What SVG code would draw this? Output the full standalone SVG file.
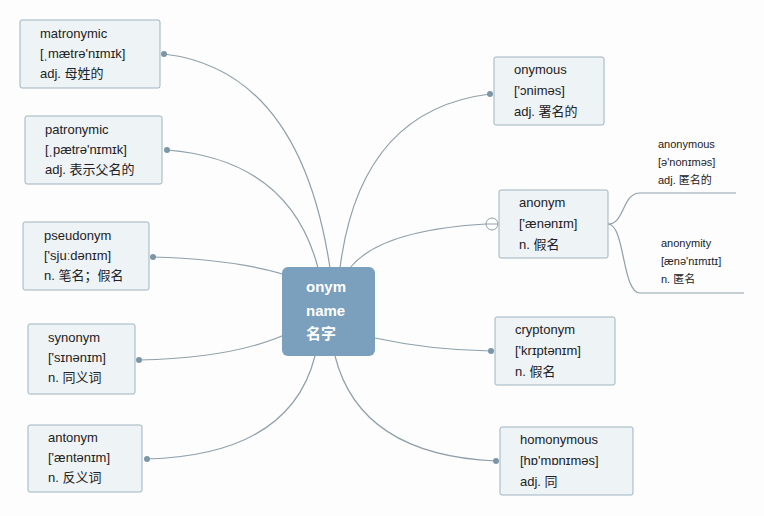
<svg xmlns="http://www.w3.org/2000/svg" width="764" height="516" viewBox="0 0 764 516">
<style>
.n{fill:#eef3f6;stroke:#9fb3c0;stroke-width:1}
.t{font-family:"Liberation Sans","Noto Sans CJK SC",sans-serif;font-size:13px;fill:#222}
.s{font-family:"Liberation Sans","Noto Sans CJK SC",sans-serif;font-size:11px;fill:#222}
.c{font-family:"Liberation Sans","Noto Sans CJK SC",sans-serif;font-size:15px;font-weight:bold;fill:#fff}
.l{fill:none;stroke:#8fa0aa;stroke-width:1.2}
.d{fill:#7d96a6}
</style>
<rect width="764" height="516" fill="#fdfdfe"/>
<g id="connectors">
<path class="l" d="M330,268 Q300,70 164,54"/>
<path class="l" d="M318,268 Q290,160 167,150"/>
<path class="l" d="M300,280 Q250,260 153,257"/>
<path class="l" d="M295,330 Q240,358 139,360"/>
<path class="l" d="M315,356 Q290,455 147,459"/>
<path class="l" d="M340,268 Q360,110 490,94"/>
<path class="l" d="M350,268 Q380,230 486,224"/>
<path class="l" d="M375,338 Q430,350 491,351"/>
<path class="l" d="M335,356 Q360,455 496,461"/>
<path class="l" d="M608,224 C625,224 622,193 640,193 L736,193"/>
<path class="l" d="M608,224 C625,224 622,293 640,293 L744,293"/>
<circle cx="492" cy="224" r="6" fill="#fff" stroke="#8fa0aa"/>
<line x1="486" y1="224" x2="498" y2="224" stroke="#8fa0aa"/>
<circle class="d" cx="164" cy="54" r="3"/><circle class="d" cx="167" cy="150" r="3"/>
<circle class="d" cx="153" cy="257" r="3"/><circle class="d" cx="139" cy="360" r="3"/>
<circle class="d" cx="147" cy="459" r="3"/><circle class="d" cx="490" cy="94" r="3"/>
<circle class="d" cx="491" cy="351" r="3"/><circle class="d" cx="496" cy="461" r="3"/>
</g>
<g id="center"><rect x="282" y="267" width="93" height="89" rx="6" fill="#7aa0bd"/>
<text class="c" x="306" y="292">onym</text><text class="c" x="306" y="316">name</text><text class="c" x="306" y="339">名字</text></g>
<g id="matronymic"><rect class="n" x="20" y="20" width="140" height="68" rx="2"/><text class="t" x="40" y="38">matronymic</text><text class="t" x="40" y="58">[ˌmætrə'nɪmɪk]</text><text class="t" x="40" y="78">adj. 母姓的</text></g>
<g id="patronymic"><rect class="n" x="25" y="116" width="137" height="68" rx="2"/><text class="t" x="45" y="134">patronymic</text><text class="t" x="45" y="154">[ˌpætrə'nɪmɪk]</text><text class="t" x="45" y="174">adj. 表示父名的</text></g>
<g id="pseudonym"><rect class="n" x="23" y="222" width="126" height="68" rx="2"/><text class="t" x="44" y="240">pseudonym</text><text class="t" x="44" y="260">['sjuːdənɪm]</text><text class="t" x="44" y="280">n. 笔名；假名</text></g>
<g id="synonym"><rect class="n" x="28" y="324" width="107" height="70" rx="2"/><text class="t" x="48" y="342">synonym</text><text class="t" x="48" y="362">['sɪnənɪm]</text><text class="t" x="48" y="382">n. 同义词</text></g>
<g id="antonym"><rect class="n" x="28" y="425" width="114" height="67" rx="2"/><text class="t" x="48" y="442">antonym</text><text class="t" x="48" y="462">['æntənɪm]</text><text class="t" x="48" y="482">n. 反义词</text></g>
<g id="onymous"><rect class="n" x="494" y="57" width="110" height="68" rx="2"/><text class="t" x="514" y="74">onymous</text><text class="t" x="514" y="95">['ɔniməs]</text><text class="t" x="514" y="116">adj. 署名的</text></g>
<g id="anonym"><rect class="n" x="499" y="190" width="109" height="68" rx="2"/><text class="t" x="519" y="207">anonym</text><text class="t" x="519" y="228">['ænənɪm]</text><text class="t" x="519" y="249">n. 假名</text></g>
<g id="anonymous"><text class="s" x="658" y="148">anonymous</text><text class="s" x="658" y="166">[ə'nonɪməs]</text><text class="s" x="658" y="184">adj. 匿名的</text></g>
<g id="anonymity"><text class="s" x="661" y="247">anonymity</text><text class="s" x="661" y="265">[ænə'nɪmɪtɪ]</text><text class="s" x="661" y="283">n. 匿名</text></g>
<g id="cryptonym"><rect class="n" x="495" y="317" width="120" height="68" rx="2"/><text class="t" x="515" y="334">cryptonym</text><text class="t" x="515" y="355">['krɪptənɪm]</text><text class="t" x="515" y="376">n. 假名</text></g>
<g id="homonymous"><rect class="n" x="500" y="427" width="133" height="68" rx="2"/><text class="t" x="520" y="444">homonymous</text><text class="t" x="520" y="465">[hɒ'mɒnɪməs]</text><text class="t" x="520" y="486">adj. 同</text></g>
</svg>
